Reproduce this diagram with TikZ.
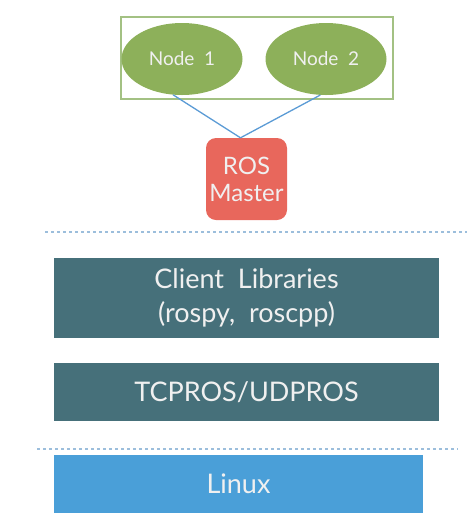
\documentclass[tikz,border=0pt]{standalone}
\usepackage{fontspec}
\setmainfont{Lato}
\usetikzlibrary{shapes.geometric}

\definecolor{nodegreen}{HTML}{8DB05A}
\definecolor{boxgreen}{HTML}{A3C183}
\definecolor{linkblue}{HTML}{5B9BD5}
\definecolor{masterred}{HTML}{E8675C}
\definecolor{layerteal}{HTML}{46707A}
\definecolor{linuxblue}{HTML}{4A9FD8}
\definecolor{sepblue}{HTML}{9CBEDC}

\def\layerwidth{385pt}

\begin{document}
\begin{tikzpicture}[x=1pt,y=-1pt,text=white!94!black]
    \tikzstyle{ros node}=[ellipse,fill=nodegreen,minimum width=121pt,minimum height=72pt,inner sep=0pt,font=\fontsize{19}{22}\selectfont]
    \tikzstyle{layer}=[rectangle,fill=layerteal,minimum width=\layerwidth,inner sep=0pt,align=center,font=\fontsize{27}{34}\selectfont]
    \tikzstyle{link}=[draw=linkblue,line width=1.3pt]
    \tikzstyle{sep line}=[draw=sepblue,line width=1.2pt,dash pattern=on 3pt off 3pt]

    \useasboundingbox (0,0) rectangle (474,523);

    % Nodes inside the green box
    \node[draw=boxgreen,line width=1.5pt,minimum width=272pt,minimum height=82pt,inner sep=0pt] (group) at (257,58) {};
    \node[ros node] (n1) at (182,59) {Node\ \ 1};
    \node[ros node] (n2) at (326,59) {Node\ \ 2};

    % The master
    \node[rectangle,rounded corners=10pt,fill=masterred,minimum width=81pt,minimum height=82pt,inner sep=0pt,align=center,font=\fontsize{24}{27}\selectfont] (master) at (246.5,179) {ROS\\Master};

    % Connect both nodes to the master
    \path[link] (n1.256) -- ([xshift=-6pt]master.north);
    \path[link] (n2.261) -- ([xshift=-6pt]master.north);

    % Separators
    \coordinate (s1-l) at (45,232);
    \coordinate (s1-r) at (467,232);
    \coordinate (s2-l) at (37,449);
    \coordinate (s2-r) at (458,449);
    \path[sep line] (s1-l) -- (s1-r);
    \path[sep line] (s2-l) -- (s2-r);

    % Draw the layers
    \node[layer,minimum height=80pt] (client) at (246.5,298) {Client\ \ Libraries\\(rospy,\ \ roscpp)};
    \node[layer,minimum height=58pt] (transport) at (246.5,392) {TCPROS/UDPROS};
    \node[layer,fill=linuxblue,minimum width=369pt,minimum height=58pt] (linux) at (238.5,484) {Linux};
\end{tikzpicture}
\end{document}
